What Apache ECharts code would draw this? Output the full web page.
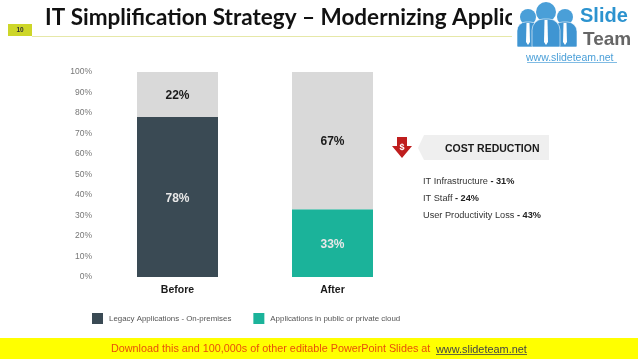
<!DOCTYPE html>
<html><head><meta charset="utf-8">
<style>html,body{margin:0;padding:0;background:#fff}#c{width:638px;height:359px}</style>
<script src="https://cdn.jsdelivr.net/npm/echarts@6/dist/echarts.min.js"></script>
</head><body><div id="c"></div>
<script>
const categories = ['Before', 'After'];
const legacy = [78, null];
const cloud = [null, 33];
const remainder = [22, 67];
const yTicks = [0, 10, 20, 30, 40, 50, 60, 70, 80, 90, 100];
const legacyName = 'Legacy Applications - On-premises';
const cloudName = 'Applications in public or private cloud';
const titleText = 'IT Simplification Strategy \u2013 Modernizing Applications';
const costLines = [
  ['IT Infrastructure ', '- 31%'],
  ['IT Staff ', '- 24%'],
  ['User Productivity Loss ', '- 43%']
];
const F = '"Liberation Sans", Arial, sans-serif';
const chart = echarts.init(document.getElementById('c'), null, {renderer: 'canvas'});

function person(cx, headY, r, bw, bh, z) {
  const top = headY + r - 3;
  return [
    {type: 'circle', z: z, shape: {cx: cx, cy: headY, r: r}, style: {fill: '#4a9fd8'}},
    {type: 'rect', z: z, shape: {x: cx - bw, y: top, width: bw * 2, height: bh, r: [bw * 0.8, bw * 0.8, 1, 1]},
      style: {fill: '#3f95d2', stroke: '#fff', lineWidth: 0.6}},
    {type: 'polygon', z: z, shape: {points: [[cx-1.5, top+1], [cx+1.5, top+1], [cx+2, top+bh-5], [cx, top+bh-2], [cx-2, top+bh-5]]}, style: {fill: '#fff'}}
  ];
}

const costText = [];
costLines.forEach((l, i) => {
  costText.push({type: 'text', z: 5, left: 423, top: 177 + i * 17,
    style: {text: `{a|${l[0]}}{b|${l[1]}}`, rich: {
      a: {font: `9.2px ${F}`, fill: '#333'},
      b: {font: `bold 9.2px ${F}`, fill: '#222'}
    }}});
});

const valueLabel = color => ({show: true, formatter: '{c}%', offset: [0, 1.5], fontFamily: F, fontWeight: 'bold', fontSize: 12, color: color});

chart.setOption({
  animation: false,
  backgroundColor: '#fff',
  grid: {left: 100, top: 72, width: 310, height: 205, containLabel: false},
  legend: {
    left: 87, top: 308, itemWidth: 11, itemHeight: 11, itemGap: 22,
    data: [legacyName, cloudName], icon: 'rect',
    textStyle: {fontFamily: F, fontSize: 7.9, color: '#555', padding: [0, 0, 0, 1]}
  },
  xAxis: {
    type: 'category', data: categories,
    axisLine: {show: false}, axisTick: {show: false},
    axisLabel: {fontFamily: F, fontWeight: 'bold', fontSize: 10.5, color: '#1a1a1a', margin: 8}
  },
  yAxis: {
    type: 'value', min: 0, max: 100, interval: 10,
    axisLine: {show: false}, axisTick: {show: false}, splitLine: {show: false},
    axisLabel: {fontFamily: F, fontSize: 8.5, color: '#777', margin: 8, padding: [2, 0, 0, 0],
      formatter: v => yTicks.includes(v) ? v + '%' : ''}
  },
  series: [
    {name: legacyName, type: 'bar', stack: 's', barWidth: 81, data: legacy,
      itemStyle: {color: '#3a4a54'}, label: valueLabel('#e8e8e8')},
    {name: cloudName, type: 'bar', stack: 's', data: cloud,
      itemStyle: {color: '#1bb39a'}, label: valueLabel('#e8e8e8')},
    {name: 'Remainder', type: 'bar', stack: 's', data: remainder,
      itemStyle: {color: '#d9d9d9'}, label: valueLabel('#1a1a1a')}
  ],
  graphic: [
    {type: 'text', z: 5, left: 45, top: 6, style: {text: titleText, font: 'bold 22.5px Lato, sans-serif', fill: '#111'}},
    {type: 'line', z: 4, shape: {x1: 32, y1: 36.5, x2: 512, y2: 36.5}, style: {stroke: '#e6e8a8', lineWidth: 1}},
    {type: 'rect', z: 5, shape: {x: 8, y: 24, width: 24, height: 12}, style: {fill: '#cdd629'}},
    {type: 'text', z: 6, left: 16.5, top: 27, style: {text: '10', font: `bold 6.5px ${F}`, fill: '#333'}},

    {type: 'rect', z: 10, shape: {x: 512, y: 0, width: 126, height: 66}, style: {fill: '#fff'}},
    ...person(528, 17, 8, 11, 25, 11),
    ...person(565, 17, 8, 12, 25, 11),
    ...person(546, 12, 10, 14, 28, 12),
    {type: 'text', z: 12, left: 580, top: 6, style: {text: 'Slide', font: `bold 20px ${F}`, fill: '#2c93cf'}},
    {type: 'text', z: 12, left: 583, top: 30, style: {text: 'Team', font: `bold 19px ${F}`, fill: '#666'}},
    {type: 'text', z: 12, left: 526, top: 53, style: {text: 'www.slideteam.net', font: `10.5px ${F}`, fill: '#4a9fd8'}},
    {type: 'line', z: 12, shape: {x1: 527, y1: 62.5, x2: 617, y2: 62.5}, style: {stroke: '#4a9fd8', lineWidth: 0.7}},

    {type: 'polygon', z: 5, shape: {points: [[397, 137], [407, 137], [407, 146], [412, 146], [402, 158], [392, 146], [397, 146]]}, style: {fill: '#bf1e1e'}},
    {type: 'text', z: 6, left: 399.5, top: 143, style: {text: '$', font: `bold 9px ${F}`, fill: '#fff'}},
    {type: 'polygon', z: 5, shape: {points: [[424, 135], [549, 135], [549, 160], [424, 160], [418, 148]]}, style: {fill: '#efefef'}},
    {type: 'text', z: 6, left: 445, top: 143.5, style: {text: 'COST REDUCTION', font: `bold 10.5px ${F}`, fill: '#1a1a1a'}},
    ...costText,

    {type: 'rect', z: 5, shape: {x: 0, y: 338, width: 638, height: 21}, style: {fill: '#ffff00'}},
    {type: 'text', z: 6, left: 111, top: 344, style: {text: 'Download this and 100,000s of other editable PowerPoint Slides at ', font: `10.8px ${F}`, fill: '#e8500a'}},
    {type: 'text', z: 6, left: 436, top: 344, style: {text: 'www.slideteam.net', font: `10.9px ${F}`, fill: '#444'}},
    {type: 'line', z: 6, shape: {x1: 436, y1: 354.5, x2: 527, y2: 354.5}, style: {stroke: '#444', lineWidth: 0.8}}
  ]
});
</script></body></html>
